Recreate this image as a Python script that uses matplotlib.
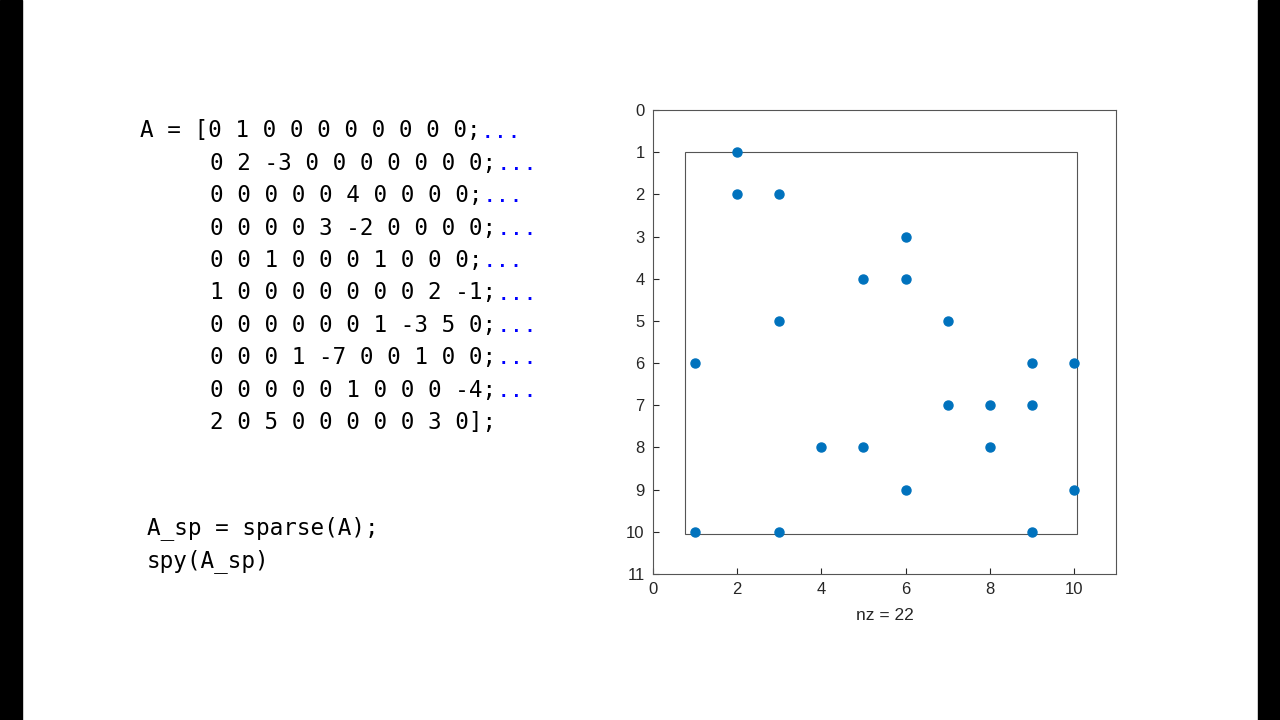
import matplotlib.pyplot as plt
from matplotlib.patches import Rectangle

# matrix rows as shown on the slide
MATRIX_ROWS = [
    "0 1 0 0 0 0 0 0 0 0",
    "0 2 -3 0 0 0 0 0 0 0",
    "0 0 0 0 0 4 0 0 0 0",
    "0 0 0 0 3 -2 0 0 0 0",
    "0 0 1 0 0 0 1 0 0 0",
    "1 0 0 0 0 0 0 0 2 -1",
    "0 0 0 0 0 0 1 -3 5 0",
    "0 0 0 1 -7 0 0 1 0 0",
    "0 0 0 0 0 1 0 0 0 -4",
    "2 0 5 0 0 0 0 0 3 0",
]
CODE_LINES = ["A_sp = sparse(A);", "spy(A_sp)"]
X_TICKS = [0, 2, 4, 6, 8, 10]
Y_TICKS = list(range(0, 12))

rows, cols = [], []
for i, line in enumerate(MATRIX_ROWS, start=1):
    for j, v in enumerate(line.split(), start=1):
        if v != "0":
            rows.append(i)
            cols.append(j)

fig = plt.figure(figsize=(12.8, 7.2), dpi=100)
fig.patches.append(Rectangle((0, 0), 22 / 1280, 1, transform=fig.transFigure, color="black"))
fig.patches.append(Rectangle((1258 / 1280, 0), 22 / 1280, 1, transform=fig.transFigure, color="black"))

mono = "DejaVu Sans Mono"
fs = 16.3
cw = fs * 0.602 * 100 / 72  # advance width of DejaVu Sans Mono, in pixels
for i, line in enumerate(MATRIX_ROWS):
    if i == 0:
        txt = "A = [" + line + ";"
        x0 = 140
    else:
        txt = line + ("];" if i == len(MATRIX_ROWS) - 1 else ";")
        x0 = 210
    y = 131 + i * 32.4
    fig.text(x0 / 1280, 1 - y / 720, txt, family=mono, fontsize=fs, va="center")
    if i < len(MATRIX_ROWS) - 1:
        fig.text((x0 + len(txt) * cw) / 1280, 1 - y / 720, "...", family=mono,
                 fontsize=fs, va="center", color="#0000ff")
for k, line in enumerate(CODE_LINES):
    fig.text(147 / 1280, 1 - (528 + k * 33) / 720, line, family=mono, fontsize=fs, va="center")

ax = fig.add_axes([653 / 1280, 1 - 574 / 720, 463 / 1280, 464 / 720])
ax.plot(cols, rows, "o", color="#0072BD", markersize=6.5)
ax.add_patch(Rectangle((0.76, 1.0), 10.07 - 0.76, 9.05, fill=False, edgecolor="#555555", lw=0.8))
ax.set_xlim(0, 11)
ax.set_ylim(11, 0)
ax.set_xticks(X_TICKS)
ax.set_yticks(Y_TICKS)
ax.tick_params(direction="in", labelsize=12, colors="#262626", length=4, pad=6)
for lab in ax.get_xticklabels() + ax.get_yticklabels():
    lab.set_family("Liberation Sans")
for s in ax.spines.values():
    s.set_color("#555555")
    s.set_linewidth(0.8)
ax.set_xlabel("nz = 22", fontsize=12.5, color="#262626", family="Liberation Sans", labelpad=8)

fig.savefig("out.png", dpi=100)
